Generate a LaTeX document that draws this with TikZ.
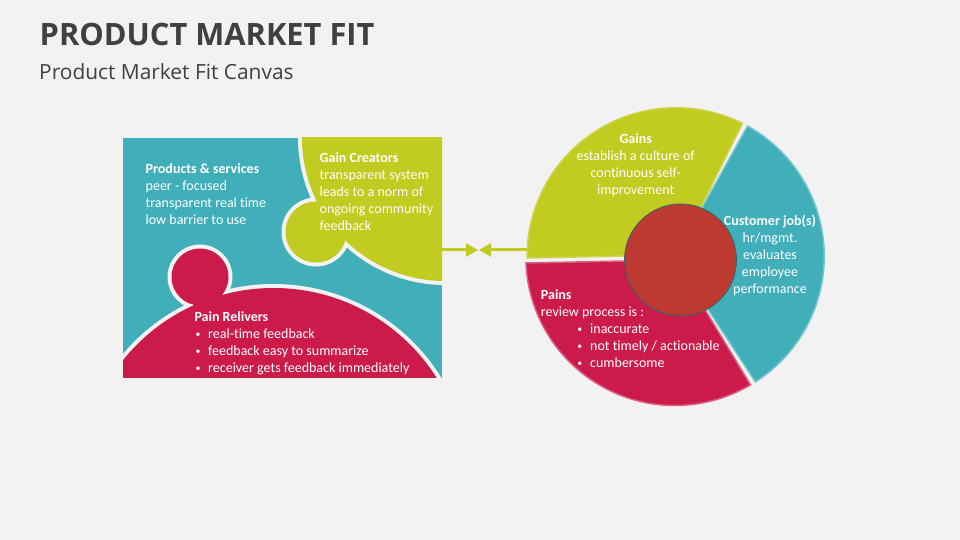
\documentclass[tikz,border=0pt]{standalone}
\usepackage{fontspec}
\setmainfont[Ligatures=NoCommon]{Carlito}
\newfontfamily\titlefont{Open Sans}
\usetikzlibrary{arrows.meta}
\definecolor{pagegray}{HTML}{F2F2F2}
\definecolor{tealpart}{HTML}{41AFBA}
\definecolor{limepart}{HTML}{C2CB20}
\definecolor{redpart}{HTML}{CC1A4A}
\definecolor{corepart}{HTML}{BC3A30}
\definecolor{titlegray}{HTML}{404040}
\newcommand{\dotmark}{\raisebox{1pt}{\scalebox{.7}{\textbullet}}}
\newcommand{\bul}[1]{\hspace*{1pt}\makebox[12.7pt][l]{\dotmark}#1}
\newcommand{\farbul}[1]{\hspace*{36.5pt}\makebox[12.8pt][l]{\dotmark}#1}
\tikzset{
  lbl/.style={inner sep=0pt,text=white,font=\fontsize{14}{17}\selectfont,execute at begin node={\rule{0pt}{12pt}}},
  gap/.style={draw=pagegray,line width=8pt},
  link/.style={limepart,line width=3pt,-{Triangle[length=12pt,width=13pt]}},
}
\begin{document}
\begin{tikzpicture}[x=1pt,y=1pt]
\fill[pagegray] (0,0) rectangle (960,540);
\node[anchor=base west,inner sep=0pt,text=titlegray,font=\titlefont\bfseries\fontsize{30.8}{36}\selectfont] (title) at (39.5,494) {PRODUCT MARKET FIT};
\node[anchor=base west,inner sep=0pt,text=titlegray,font=\titlefont\fontsize{20.9}{24}\selectfont] (subtitle) at (39,460) {Product Market Fit Canvas};
% left canvas
\fill[tealpart] (123,162) rectangle (442,402);
\begin{scope}
\clip (123,162) rectangle (442,402);
\draw[gap] (445,402) circle (143); % gain creators
\draw[gap] (316,308) circle (30.5);
\fill[limepart] (445,402) circle (143);
\fill[limepart] (316,308) circle (30.5);
\draw[gap] (273.5,59) circle (193); % pain relivers
\draw[gap] (200,263) circle (28.5);
\fill[redpart] (273.5,59) circle (193);
\fill[redpart] (200,263) circle (28.5);
\end{scope}
\node[lbl,anchor=north west,align=left] (products) at (145.5,377) {\textbf{Products \& services}\\peer - focused\\transparent real time\\low barrier to use};
\node[lbl,anchor=north west,align=left] (creators) at (319.5,388) {\textbf{Gain Creators}\\transparent system\\leads to a norm of\\ongoing community\\feedback};
\node[lbl,anchor=north west,align=left] (relivers) at (194.3,229) {\textbf{Pain Relivers}\\\bul{real-time feedback}\\\bul{feedback easy to summarize}\\\bul{receiver gets feedback immediately}};
% right wheel
\filldraw[fill=limepart,draw=limepart!80!white,line width=1.5pt] (527,282) arc[start angle=180.5,end angle=63.5,radius=149] -- (702,335) -- (680,280) -- (625,284) --cycle;
\filldraw[fill=redpart,draw=redpart!70!white,line width=1.5pt] (526,277) arc[start angle=182.5,end angle=300.5,radius=149] -- (707,227) -- (680,280) -- (625,279) --cycle;
\filldraw[fill=tealpart,draw=tealpart!70!white,line width=1.5pt] (747.5,414) arc[start angle=61,end angle=-57.5,radius=149] -- (709,229) -- (680,280) -- (703,334) --cycle;
\filldraw[fill=corepart,draw=tealpart!60!black,line width=0.8pt] (680.5,280) circle (56);
\node[lbl,anchor=north,align=center] (gains) at (635.7,407) {\textbf{Gains}\\establish a culture of\\continuous self-\\improvement};
\node[lbl,anchor=north,align=center] (jobs) at (770,325) {\textbf{Customer job(s)}\\hr/mgmt.\\evaluates\\employee\\performance};
\node[lbl,anchor=north west,align=left] (pains) at (540.7,251) {\textbf{Pains}\\review process is :\\\farbul{inaccurate}\\\farbul{not timely / actionable}\\\farbul{cumbersome}};
% links
\coordinate (canvasedge) at (442,290);
\coordinate (canvastip) at (478,290);
\coordinate (wheeledge) at (527,290);
\coordinate (wheeltip) at (479,290);
\draw[link] (canvasedge) -- (canvastip);
\draw[link] (wheeledge) -- (wheeltip);
\end{tikzpicture}
\end{document}
